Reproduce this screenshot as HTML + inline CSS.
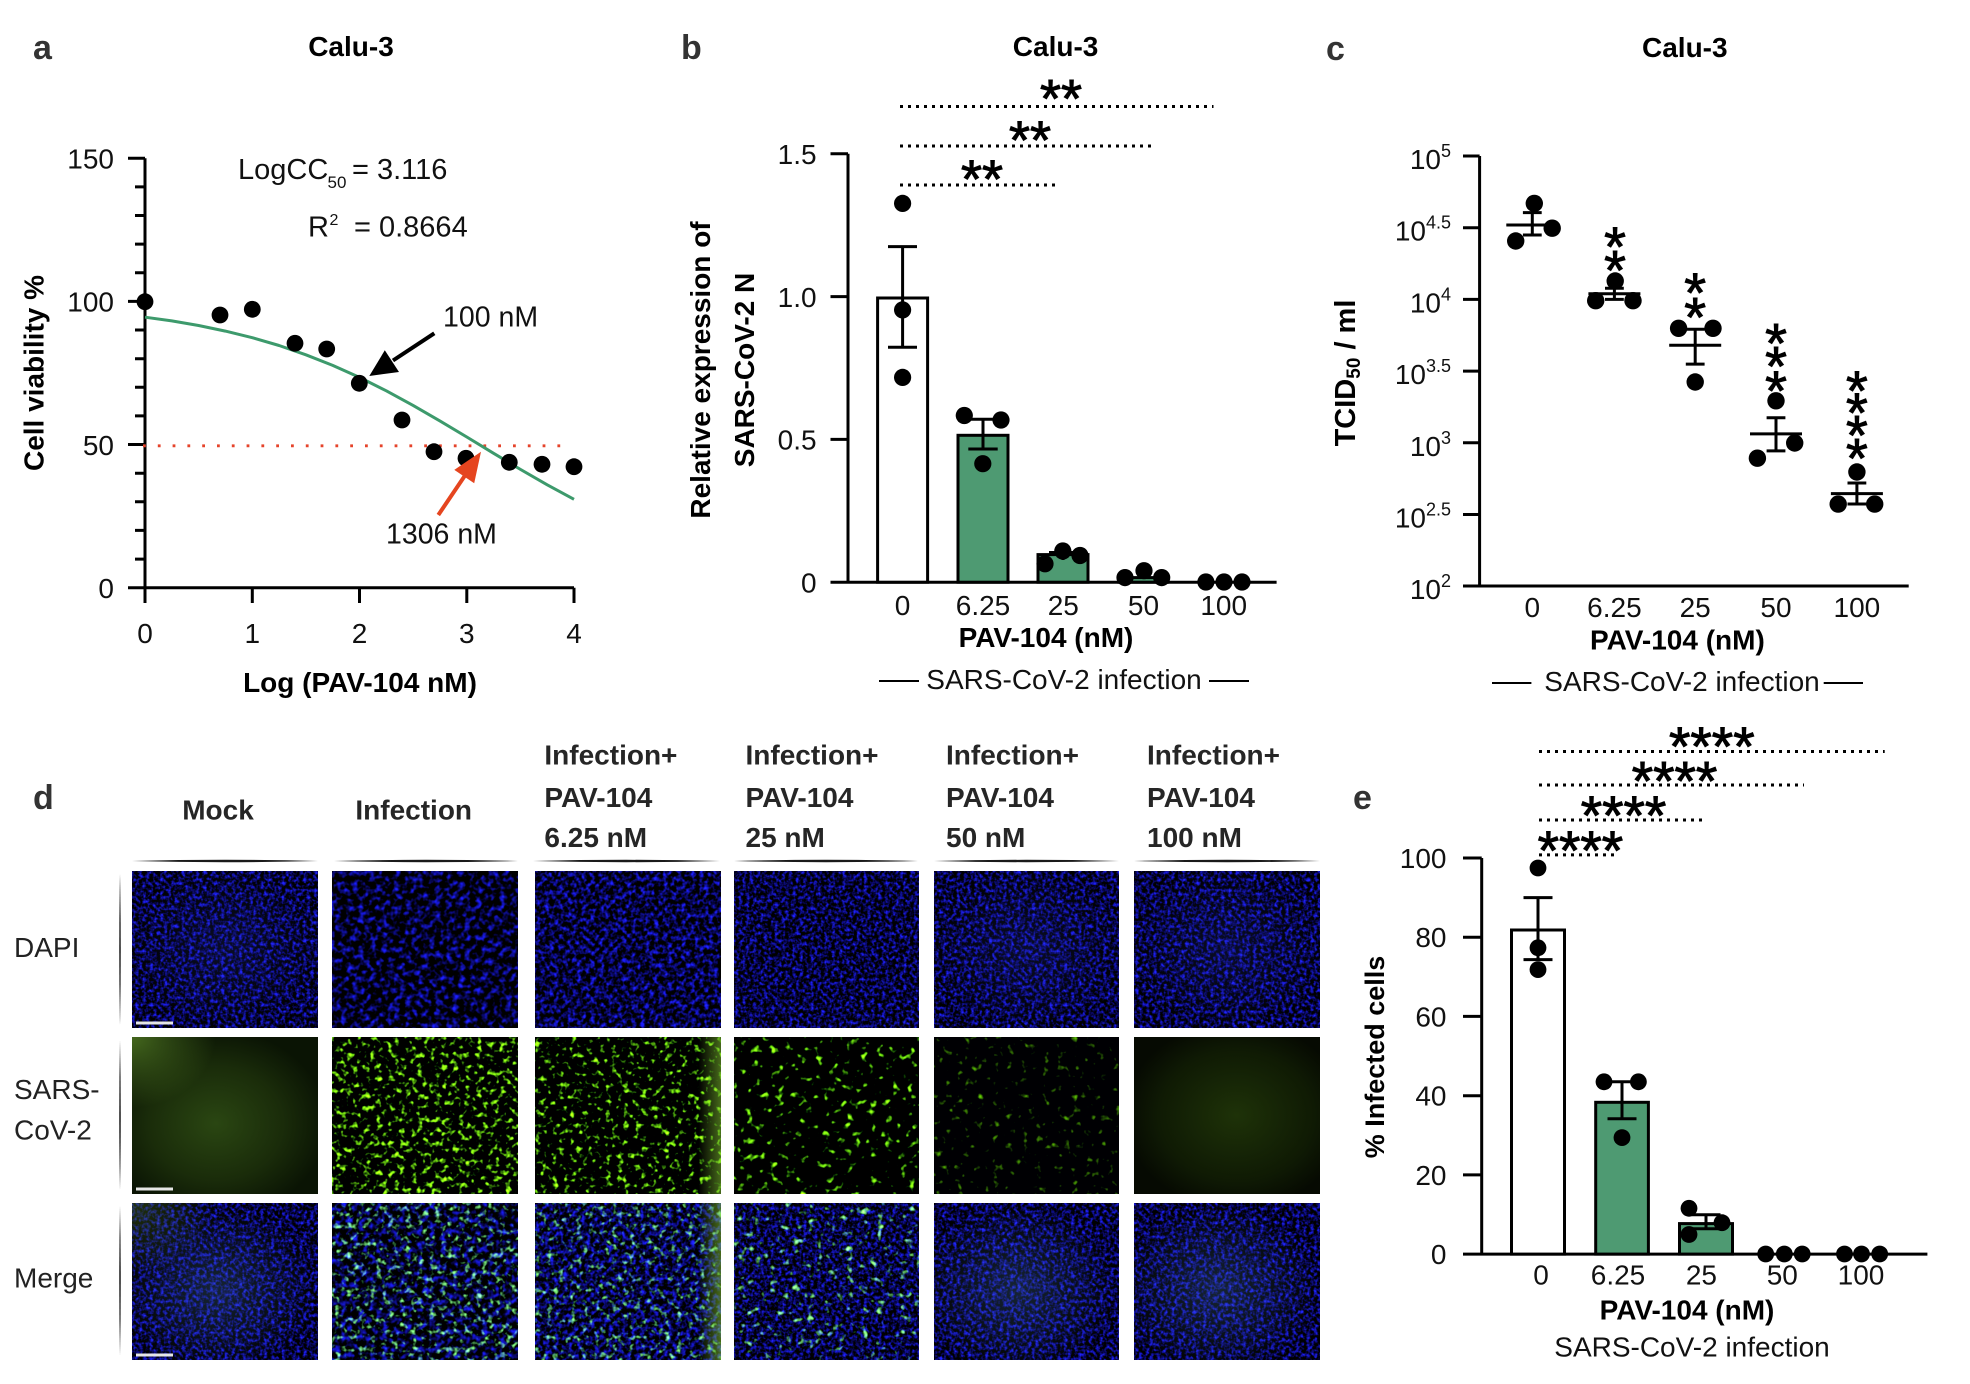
<!DOCTYPE html>
<html><head><meta charset="utf-8"><style>
html,body{margin:0;padding:0;background:#fff;}
svg{display:block;}
text{font-family:"Liberation Sans",Arial,sans-serif;}
</style></head><body>
<svg width="1970" height="1384" viewBox="0 0 1970 1384" xmlns="http://www.w3.org/2000/svg">
<defs>
<filter id="bF" x="0" y="0" width="1" height="1" color-interpolation-filters="sRGB">
<feTurbulence type="fractalNoise" baseFrequency="0.28" numOctaves="2" seed="3"/>
<feColorMatrix type="matrix" values="0.3 0 0 0 -0.13  0.35 0 0 0 -0.16  2.4 0 0 0 -0.95  0 0 0 0 1"/>
</filter>
<filter id="bC" x="0" y="0" width="1" height="1" color-interpolation-filters="sRGB">
<feTurbulence type="fractalNoise" baseFrequency="0.17" numOctaves="2" seed="2"/>
<feColorMatrix type="matrix" values="0.3 0 0 0 -0.14  0.35 0 0 0 -0.17  2.8 0 0 0 -1.25  0 0 0 0 1"/>
</filter>
<filter id="bM" x="0" y="0" width="1" height="1" color-interpolation-filters="sRGB">
<feTurbulence type="fractalNoise" baseFrequency="0.22" numOctaves="2" seed="9"/>
<feColorMatrix type="matrix" values="0.3 0 0 0 -0.13  0.35 0 0 0 -0.16  2.6 0 0 0 -1.05  0 0 0 0 1"/>
</filter>
<filter id="g2" x="0" y="0" width="1" height="1" color-interpolation-filters="sRGB">
<feTurbulence type="fractalNoise" baseFrequency="0.17" numOctaves="2" seed="5"/>
<feColorMatrix type="matrix" values="3 0 0 0 -1.68  5 0 0 0 -2.7  0.4 0 0 0 -0.22  0 0 0 0 1"/>
</filter>
<filter id="g3" x="0" y="0" width="1" height="1" color-interpolation-filters="sRGB">
<feTurbulence type="fractalNoise" baseFrequency="0.17" numOctaves="2" seed="8"/>
<feColorMatrix type="matrix" values="3 0 0 0 -1.76  5 0 0 0 -2.82  0.4 0 0 0 -0.23  0 0 0 0 1"/>
</filter>
<filter id="g4" x="0" y="0" width="1" height="1" color-interpolation-filters="sRGB">
<feTurbulence type="fractalNoise" baseFrequency="0.13" numOctaves="2" seed="11"/>
<feColorMatrix type="matrix" values="3.6 0 0 0 -2.3  6 0 0 0 -3.7  0.5 0 0 0 -0.32  0 0 0 0 1"/>
</filter>
<filter id="g5" x="0" y="0" width="1" height="1" color-interpolation-filters="sRGB">
<feTurbulence type="fractalNoise" baseFrequency="0.14" numOctaves="2" seed="13"/>
<feColorMatrix type="matrix" values="1.5 0 0 0 -0.98  3 0 0 0 -1.93  0 0 0 0 0.01  0 0 0 0 1"/>
</filter>
<filter id="m2" x="0" y="0" width="1" height="1" color-interpolation-filters="sRGB">
<feTurbulence type="fractalNoise" baseFrequency="0.17" numOctaves="2" seed="2" result="a"/>
<feColorMatrix in="a" type="matrix" values="0.3 0 0 0 -0.14 0.35 0 0 0 -0.17 2.8 0 0 0 -1.25 0 0 0 0 1" result="bl"/>
<feTurbulence type="fractalNoise" baseFrequency="0.17" numOctaves="2" seed="5" result="c"/>
<feColorMatrix in="c" type="matrix" values="2.2 0 0 0 -1.25 3.8 0 0 0 -2.08 2 0 0 0 -1.1 0 0 0 0 1" result="gr"/>
<feBlend in="gr" in2="bl" mode="screen"/>
</filter>
<filter id="m3" x="0" y="0" width="1" height="1" color-interpolation-filters="sRGB">
<feTurbulence type="fractalNoise" baseFrequency="0.22" numOctaves="2" seed="9" result="a"/>
<feColorMatrix in="a" type="matrix" values="0.3 0 0 0 -0.13 0.35 0 0 0 -0.16 2.6 0 0 0 -1.05 0 0 0 0 1" result="bl"/>
<feTurbulence type="fractalNoise" baseFrequency="0.17" numOctaves="2" seed="8" result="c"/>
<feColorMatrix in="c" type="matrix" values="2.2 0 0 0 -1.3 3.8 0 0 0 -2.15 2 0 0 0 -1.15 0 0 0 0 1" result="gr"/>
<feBlend in="gr" in2="bl" mode="screen"/>
</filter>
<filter id="m4" x="0" y="0" width="1" height="1" color-interpolation-filters="sRGB">
<feTurbulence type="fractalNoise" baseFrequency="0.28" numOctaves="2" seed="3" result="a"/>
<feColorMatrix in="a" type="matrix" values="0.3 0 0 0 -0.13 0.35 0 0 0 -0.16 2.4 0 0 0 -0.95 0 0 0 0 1" result="bl"/>
<feTurbulence type="fractalNoise" baseFrequency="0.13" numOctaves="2" seed="11" result="c"/>
<feColorMatrix in="c" type="matrix" values="3 0 0 0 -1.92 5 0 0 0 -3.1 2.6 0 0 0 -1.65 0 0 0 0 1" result="gr"/>
<feBlend in="gr" in2="bl" mode="screen"/>
</filter>
<radialGradient id="glowMock" cx="0.45" cy="0.55" r="0.6">
<stop offset="0" stop-color="#2a4612"/><stop offset="0.6" stop-color="#1a2c0a"/><stop offset="1" stop-color="#0a1404"/>
</radialGradient>
<radialGradient id="glowTL" cx="0" cy="0" r="0.45">
<stop offset="0" stop-color="#4a7020" stop-opacity="0.9"/><stop offset="1" stop-color="#4a7020" stop-opacity="0"/>
</radialGradient>
<radialGradient id="glow100" cx="0.55" cy="0.5" r="0.6">
<stop offset="0" stop-color="#1e3208"/><stop offset="0.7" stop-color="#0f1a04"/><stop offset="1" stop-color="#060a02"/>
</radialGradient>
<radialGradient id="haze" cx="0.45" cy="0.55" r="0.55">
<stop offset="0" stop-color="#4a78b0" stop-opacity="0.3"/><stop offset="1" stop-color="#4a78b0" stop-opacity="0"/>
</radialGradient>
<radialGradient id="hazeB" cx="0.5" cy="0.5" r="0.55">
<stop offset="0" stop-color="#3040c0" stop-opacity="0.2"/><stop offset="1" stop-color="#3040c0" stop-opacity="0"/>
</radialGradient>
<linearGradient id="edgeR" x1="0" x2="1" y1="0" y2="0">
<stop offset="0.88" stop-color="#80c030" stop-opacity="0"/><stop offset="1" stop-color="#80c030" stop-opacity="0.55"/>
</linearGradient>
</defs>

<rect width="1970" height="1384" fill="#fff"/>

<!-- ================= PANEL A ================= -->
<text x="33" y="59" font-size="34" font-weight="bold" fill="#333">a</text>
<text x="351" y="56" font-size="28" font-weight="bold" text-anchor="middle">Calu-3</text>
<g stroke="#000" stroke-width="3" fill="none">
<path d="M145 158.25V587.7M128 587.7H574"/>
<path d="M128 158.25H145M128 301.4H145M128 444.55H145M135 186.9H145M135 215.5H145M135 244.1H145M135 272.8H145M135 330H145M135 358.7H145M135 387.3H145M135 415.9H145M135 473.2H145M135 501.8H145M135 530.4H145M135 559.1H145"/>
<path d="M145 587.7V603M252.3 587.7V603M359.5 587.7V603M466.8 587.7V603M574 587.7V603"/>
</g>
<g font-size="28" text-anchor="end" fill="#111">
<text x="114" y="168.5">150</text><text x="114" y="311.7">100</text><text x="114" y="454.9">50</text><text x="114" y="598">0</text>
</g>
<g font-size="28" text-anchor="middle" fill="#111">
<text x="145" y="643">0</text><text x="252.3" y="643">1</text><text x="359.5" y="643">2</text><text x="466.8" y="643">3</text><text x="574" y="643">4</text>
</g>
<text x="360" y="692" font-size="28" font-weight="bold" text-anchor="middle">Log (PAV-104 nM)</text>
<text transform="translate(43.5,373) rotate(-90)" font-size="28" font-weight="bold" text-anchor="middle">Cell viability %</text>
<text x="238" y="179" font-size="29" fill="#111">LogCC</text>
<text x="327.5" y="188" font-size="17" fill="#111">50</text>
<text x="352" y="179" font-size="29" fill="#111">= 3.116</text>
<text x="308" y="236.7" font-size="29" fill="#111">R</text>
<text x="329.5" y="225" font-size="16" fill="#111">2</text>
<text x="354" y="236.7" font-size="29" fill="#111">= 0.8664</text>
<line x1="143" y1="445.8" x2="562" y2="445.8" stroke="#e5432b" stroke-width="2.8" stroke-dasharray="2.8 12"/>
<polyline fill="none" stroke="#3d9a6c" stroke-width="3" stroke-linejoin="round" points="145,317.2 171.8,320.9 198.6,325.5 225.4,331.1 252.3,337.7 279.1,345.5 305.9,354.8 332.7,365.4 359.5,377.4 386.3,390.8 413.1,405.4 439.9,420.9 466.8,437.0 493.6,453.3 520.4,469.4 547.2,484.8 574,499.3"/>
<g fill="#000">
<circle cx="145" cy="301.7" r="8.4"/><circle cx="220" cy="315" r="8.4"/><circle cx="252.3" cy="309.3" r="8.4"/>
<circle cx="295" cy="343.3" r="8.4"/><circle cx="326.7" cy="349" r="8.4"/><circle cx="359.3" cy="383.3" r="8.4"/>
<circle cx="402" cy="420" r="8.4"/><circle cx="434" cy="451.7" r="8.4"/><circle cx="466" cy="458.3" r="8.4"/>
<circle cx="509.3" cy="462.3" r="8.4"/><circle cx="542" cy="464.3" r="8.4"/><circle cx="574" cy="466.7" r="8.4"/>
</g>
<line x1="434.3" y1="333.3" x2="393" y2="360.5" stroke="#000" stroke-width="4"/>
<polygon points="369.3,376 384.8,350.3 399,372" fill="#000"/>
<line x1="438.3" y1="515" x2="466" y2="474" stroke="#e5451f" stroke-width="4"/>
<polygon points="481,451.7 454.3,469.9 474.2,483.3" fill="#e5451f"/>
<text x="443" y="326.7" font-size="28.5" fill="#111">100 nM</text>
<text x="386" y="543.3" font-size="28.5" fill="#111">1306 nM</text>

<!-- ================= PANEL B ================= -->
<text x="681" y="59" font-size="34" font-weight="bold" fill="#333">b</text>
<text x="1055.6" y="56" font-size="28" font-weight="bold" text-anchor="middle">Calu-3</text>
<g stroke="#000" stroke-width="3" fill="none">
<path d="M848 153.8V582.2M830.5 582.2H1276.6"/>
<path d="M830.5 153.8H848M830.5 296.6H848M830.5 439.4H848"/>
</g>
<g font-size="28" text-anchor="end" fill="#111">
<text x="816.6" y="164">1.5</text><text x="816.6" y="306.8">1.0</text><text x="816.6" y="449.6">0.5</text><text x="816.6" y="592.4">0</text>
</g>
<g stroke="#000" stroke-width="3">
<rect x="877.6" y="298" width="50" height="284.2" fill="#fff"/>
<rect x="958" y="435.3" width="50" height="146.9" fill="#4e9a72"/>
<rect x="1038" y="554.6" width="50" height="27.6" fill="#4e9a72"/>
<rect x="1119" y="577.6" width="48.5" height="4.6" fill="#4e9a72"/>
</g>
<g stroke="#000" stroke-width="3" fill="none">
<path d="M902.6 246.6V347.2M888 246.6H917M888 347.2H917"/>
<path d="M983 419.2V449M968.3 419.2H997.7M968.3 449H997.7"/>
<path d="M1063 552.5V560M1049 552.5H1077"/>
</g>
<g fill="#000">
<circle cx="902.6" cy="203.4" r="8.6"/><circle cx="902.6" cy="309.9" r="8.6"/><circle cx="902.6" cy="377.4" r="8.6"/>
<circle cx="964.3" cy="415.5" r="8.6"/><circle cx="1001" cy="420" r="8.6"/><circle cx="982.8" cy="463.7" r="8.6"/>
<circle cx="1045" cy="563.8" r="8.6"/><circle cx="1062.8" cy="551" r="8.6"/><circle cx="1080" cy="555.5" r="8.6"/>
<circle cx="1125" cy="577.6" r="8.6"/><circle cx="1144" cy="570.7" r="8.6"/><circle cx="1161.7" cy="577.6" r="8.6"/>
<circle cx="1205.9" cy="582" r="8.6"/><circle cx="1224" cy="582" r="8.6"/><circle cx="1242" cy="582" r="8.6"/>
</g>
<g stroke="#000" stroke-width="3" stroke-dasharray="3 5" fill="none">
<line x1="900" y1="106.5" x2="1213.5" y2="106.5"/>
<line x1="900" y1="146" x2="1153" y2="146"/>
<line x1="900" y1="185" x2="1057.7" y2="185"/>
</g>
<g font-size="54" text-anchor="middle" stroke="#000" stroke-width="1">
<text x="1061" y="117">**</text><text x="1030" y="158.6">**</text><text x="982" y="197.6">**</text>
</g>
<g font-size="28" text-anchor="middle" fill="#111">
<text x="902.6" y="615">0</text><text x="983" y="615">6.25</text><text x="1063.3" y="615">25</text><text x="1143.5" y="615">50</text><text x="1223.7" y="615">100</text>
</g>
<text x="1046" y="647" font-size="28" font-weight="bold" text-anchor="middle">PAV-104 (nM)</text>
<text x="1064" y="689" font-size="28" text-anchor="middle" fill="#111">SARS-CoV-2 infection</text>
<g stroke="#000" stroke-width="2"><line x1="879" y1="681" x2="919" y2="681"/><line x1="1209" y1="681" x2="1249" y2="681"/></g>
<text transform="translate(710,370) rotate(-90)" font-size="28" font-weight="bold" text-anchor="middle">Relative expression of</text>
<text transform="translate(754,370) rotate(-90)" font-size="28" font-weight="bold" text-anchor="middle">SARS-CoV-2 N</text>

<!-- ================= PANEL C ================= -->
<text x="1326" y="60" font-size="34" font-weight="bold" fill="#333">c</text>
<text x="1684.8" y="57" font-size="28" font-weight="bold" text-anchor="middle">Calu-3</text>
<g stroke="#000" stroke-width="3" fill="none">
<path d="M1479.6 156V586M1463 586H1908.7"/>
<path d="M1463 156H1479.6M1463 227.7H1479.6M1463 299.4H1479.6M1463 371.1H1479.6M1463 442.8H1479.6M1463 514.5H1479.6"/>
</g>
<g font-size="28" text-anchor="end" fill="#111">
<text x="1451" y="169">10<tspan font-size="18" dy="-12">5</tspan></text>
<text x="1451" y="240.7">10<tspan font-size="18" dy="-12">4.5</tspan></text>
<text x="1451" y="312.4">10<tspan font-size="18" dy="-12">4</tspan></text>
<text x="1451" y="384.1">10<tspan font-size="18" dy="-12">3.5</tspan></text>
<text x="1451" y="455.8">10<tspan font-size="18" dy="-12">3</tspan></text>
<text x="1451" y="527.5">10<tspan font-size="18" dy="-12">2.5</tspan></text>
<text x="1451" y="599">10<tspan font-size="18" dy="-12">2</tspan></text>
</g>
<g stroke="#000" stroke-width="3" fill="none">
<path d="M1506.3 225H1558.3M1532.3 212.6V235M1522.9 212.6H1541.7M1522.9 235H1541.7"/>
<path d="M1588.4 293.8H1640.4M1614.4 288.3V299.4M1605 288.3H1623.8M1605 299.4H1623.8"/>
<path d="M1669.2 345.3H1721.2M1695.2 329.2V364.1M1685.8 329.2H1704.6M1685.8 364.1H1704.6"/>
<path d="M1750 433.9H1802M1776 417.8V450.9M1766.6 417.8H1785.4M1766.6 450.9H1785.4"/>
<path d="M1830.9 493.6H1882.9M1856.9 483V504M1847.5 483H1866.3M1847.5 504H1866.3"/>
</g>
<g fill="#000">
<circle cx="1515.7" cy="241" r="8.7"/><circle cx="1534.3" cy="203.4" r="8.7"/><circle cx="1552.2" cy="228.2" r="8.7"/>
<circle cx="1595.7" cy="300.7" r="8.7"/><circle cx="1615.2" cy="281" r="8.7"/><circle cx="1633" cy="300.7" r="8.7"/>
<circle cx="1678.6" cy="328.3" r="8.7"/><circle cx="1713" cy="328.3" r="8.7"/><circle cx="1695.2" cy="382" r="8.7"/>
<circle cx="1757.4" cy="458.2" r="8.7"/><circle cx="1776" cy="400.8" r="8.7"/><circle cx="1794.7" cy="443" r="8.7"/>
<circle cx="1838.2" cy="504.1" r="8.7"/><circle cx="1856.9" cy="472" r="8.7"/><circle cx="1874.7" cy="504.1" r="8.7"/>
</g>
<g font-size="56" text-anchor="middle" stroke="#000" stroke-width="1">
<text x="1615" y="266">*</text><text x="1615" y="289.5">*</text>
<text x="1695.2" y="312">*</text><text x="1695.2" y="336.3">*</text>
<text x="1776" y="362.5">*</text><text x="1776" y="385.5">*</text><text x="1776" y="409.8">*</text>
<text x="1856.9" y="410.2">*</text><text x="1856.9" y="431.8">*</text><text x="1856.9" y="454.3">*</text><text x="1856.9" y="477.3">*</text>
</g>
<g font-size="28" text-anchor="middle" fill="#111">
<text x="1532.3" y="617">0</text><text x="1614.4" y="617">6.25</text><text x="1695.2" y="617">25</text><text x="1776" y="617">50</text><text x="1856.9" y="617">100</text>
</g>
<text x="1677.4" y="649.5" font-size="28" font-weight="bold" text-anchor="middle">PAV-104 (nM)</text>
<text x="1682" y="691" font-size="28" text-anchor="middle" fill="#111">SARS-CoV-2 infection</text>
<g stroke="#000" stroke-width="2"><line x1="1492" y1="683" x2="1531.4" y2="683"/><line x1="1823.7" y1="683" x2="1863" y2="683"/></g>
<text transform="translate(1355,373) rotate(-90)" font-size="29" font-weight="bold" text-anchor="middle">TCID<tspan font-size="19" dy="5">50</tspan><tspan dy="-5"> / ml</tspan></text>

<!-- ================= PANEL D ================= -->
<text x="33" y="809" font-size="34" font-weight="bold" fill="#333">d</text>
<g font-size="28" font-weight="bold" fill="#262626">
<text x="218" y="819.5" text-anchor="middle">Mock</text>
<text x="413.7" y="819.5" text-anchor="middle">Infection</text>
<text x="544.4" y="764.5">Infection+</text><text x="544.4" y="806.8">PAV-104</text><text x="544.4" y="847">6.25 nM</text>
<text x="745.5" y="764.5">Infection+</text><text x="745.5" y="806.8">PAV-104</text><text x="745.5" y="847">25 nM</text>
<text x="946" y="764.5">Infection+</text><text x="946" y="806.8">PAV-104</text><text x="946" y="847">50 nM</text>
<text x="1147" y="764.5">Infection+</text><text x="1147" y="806.8">PAV-104</text><text x="1147" y="847">100 nM</text>
</g>
<g fill="#1a1a1a">
<path d="M132 861Q225 858.6 318 861Q225 863.4 132 861Z"/>
<path d="M334 861Q426 858.6 518 861Q426 863.4 334 861Z"/>
<path d="M533 861Q626 858.6 720 861Q626 863.4 533 861Z"/>
<path d="M734 861Q826 858.6 918 861Q826 863.4 734 861Z"/>
<path d="M934 861Q1026 858.6 1119 861Q1026 863.4 934 861Z"/>
<path d="M1134 861Q1227 858.6 1320 861Q1227 863.4 1134 861Z"/>
<path d="M120 874Q118.5 950 120 1025Q121.5 950 120 874Z"/>
<path d="M120 1040Q118.5 1115 120 1190Q121.5 1115 120 1040Z"/>
<path d="M120 1206Q118.5 1281 120 1356Q121.5 1281 120 1206Z"/>
</g>
<g font-size="28" fill="#222">
<text x="14" y="957">DAPI</text>
<text x="14" y="1099">SARS-</text><text x="14" y="1139.3">CoV-2</text>
<text x="14" y="1287.5">Merge</text>
</g>
<!-- tiles row 1 DAPI -->
<g>
<rect x="132" y="871" width="186" height="157" fill="#000"/><rect x="132" y="871" width="186" height="157" filter="url(#bF)"/><rect x="132" y="871" width="186" height="157" fill="url(#hazeB)"/>
<rect x="332" y="871" width="186" height="157" fill="#000"/><rect x="332" y="871" width="186" height="157" filter="url(#bC)"/>
<rect x="535" y="871" width="186" height="157" fill="#000"/><rect x="535" y="871" width="186" height="157" filter="url(#bM)"/>
<rect x="734" y="871" width="185" height="157" fill="#000"/><rect x="734" y="871" width="185" height="157" filter="url(#bF)"/>
<rect x="934" y="871" width="185" height="157" fill="#000"/><rect x="934" y="871" width="185" height="157" filter="url(#bF)"/><rect x="934" y="871" width="185" height="157" fill="url(#hazeB)"/>
<rect x="1134" y="871" width="186" height="157" fill="#000"/><rect x="1134" y="871" width="186" height="157" filter="url(#bF)"/><rect x="1134" y="871" width="186" height="157" fill="url(#hazeB)"/>
</g>
<!-- row 2 SARS -->
<g>
<rect x="132" y="1037" width="186" height="157" fill="url(#glowMock)"/><rect x="132" y="1037" width="186" height="157" fill="url(#glowTL)"/>
<rect x="332" y="1037" width="186" height="157" fill="#000"/><rect x="332" y="1037" width="186" height="157" filter="url(#g2)"/>
<rect x="535" y="1037" width="186" height="157" fill="#000"/><rect x="535" y="1037" width="186" height="157" filter="url(#g3)"/><rect x="535" y="1037" width="186" height="157" fill="url(#edgeR)"/>
<rect x="734" y="1037" width="185" height="157" fill="#000"/><rect x="734" y="1037" width="185" height="157" filter="url(#g4)"/>
<rect x="934" y="1037" width="185" height="157" fill="#000"/><rect x="934" y="1037" width="185" height="157" filter="url(#g5)"/>
<rect x="1134" y="1037" width="186" height="157" fill="url(#glow100)"/>
</g>
<!-- row 3 Merge -->
<g>
<rect x="132" y="1203" width="186" height="157" fill="#000"/><rect x="132" y="1203" width="186" height="157" filter="url(#bF)"/><rect x="132" y="1203" width="186" height="157" fill="url(#haze)"/><rect x="132" y="1203" width="186" height="157" fill="url(#glowTL)" opacity="0.5"/>
<rect x="332" y="1203" width="186" height="157" fill="#000"/><rect x="332" y="1203" width="186" height="157" filter="url(#m2)"/>
<rect x="535" y="1203" width="186" height="157" fill="#000"/><rect x="535" y="1203" width="186" height="157" filter="url(#m3)"/><rect x="535" y="1203" width="186" height="157" fill="url(#edgeR)"/>
<rect x="734" y="1203" width="185" height="157" fill="#000"/><rect x="734" y="1203" width="185" height="157" filter="url(#m4)"/>
<rect x="934" y="1203" width="185" height="157" fill="#000"/><rect x="934" y="1203" width="185" height="157" filter="url(#bF)"/><rect x="934" y="1203" width="185" height="157" fill="url(#haze)"/>
<rect x="1134" y="1203" width="186" height="157" fill="#000"/><rect x="1134" y="1203" width="186" height="157" filter="url(#bF)"/><rect x="1134" y="1203" width="186" height="157" fill="url(#haze)"/>
</g>
<g fill="#e6e6e6">
<rect x="136" y="1021.5" width="37" height="3"/><rect x="136" y="1187.5" width="37" height="3"/><rect x="136" y="1353.5" width="37" height="3"/>
</g>

<!-- ================= PANEL E ================= -->
<text x="1353" y="809" font-size="34" font-weight="bold" fill="#333">e</text>
<g stroke="#000" stroke-width="3" fill="none">
<path d="M1481.7 858V1254.1M1463 1254.1H1927.4"/>
<path d="M1463 858H1481.7M1463 937.2H1481.7M1463 1016.4H1481.7M1463 1095.7H1481.7M1463 1174.9H1481.7"/>
</g>
<g font-size="28" text-anchor="end" fill="#111">
<text x="1446.5" y="868">100</text><text x="1446.5" y="947.2">80</text><text x="1446.5" y="1026.4">60</text><text x="1446.5" y="1105.7">40</text><text x="1446.5" y="1184.9">20</text><text x="1446.5" y="1264.1">0</text>
</g>
<g stroke="#000" stroke-width="3">
<rect x="1511.5" y="930" width="53" height="324.1" fill="#fff"/>
<rect x="1595.7" y="1102.3" width="52.7" height="151.8" fill="#4e9a72"/>
<rect x="1679.5" y="1223.6" width="53" height="30.5" fill="#4e9a72"/>
</g>
<g stroke="#000" stroke-width="3" fill="none">
<path d="M1538 897.6V959.6M1523.5 897.6H1552.5M1523.5 959.6H1552.5"/>
<path d="M1622 1081.8V1118.8M1607.5 1081.8H1636.5M1607.5 1118.8H1636.5"/>
<path d="M1706 1214.8V1228.8M1691.5 1214.8H1720.5M1691.5 1228.8H1720.5"/>
</g>
<g fill="#000">
<circle cx="1538" cy="868" r="8.4"/><circle cx="1538" cy="947.8" r="8.4"/><circle cx="1538" cy="969.6" r="8.4"/>
<circle cx="1604" cy="1081.8" r="8.4"/><circle cx="1638.4" cy="1081.8" r="8.4"/><circle cx="1622" cy="1137.6" r="8.4"/>
<circle cx="1689" cy="1208.3" r="8.4"/><circle cx="1689" cy="1234.5" r="8.4"/><circle cx="1722" cy="1222.7" r="8.4"/>
<circle cx="1765.7" cy="1254" r="8.4"/><circle cx="1784.3" cy="1254" r="8.4"/><circle cx="1802.2" cy="1254" r="8.4"/>
<circle cx="1844.5" cy="1254" r="8.4"/><circle cx="1861.5" cy="1254" r="8.4"/><circle cx="1879.7" cy="1254" r="8.4"/>
</g>
<g stroke="#000" stroke-width="3" stroke-dasharray="3 5" fill="none">
<line x1="1539" y1="751.5" x2="1884.7" y2="751.5"/>
<line x1="1539" y1="785" x2="1804" y2="785"/>
<line x1="1539" y1="820" x2="1705.6" y2="820"/>
<line x1="1539" y1="854.9" x2="1615.6" y2="854.9"/>
</g>
<g font-size="55" text-anchor="middle" stroke="#000" stroke-width="1">
<text x="1711.8" y="765.2">****</text><text x="1674.5" y="799.3">****</text><text x="1623.5" y="834.1">****</text><text x="1580.4" y="869">****</text>
</g>
<g font-size="28" text-anchor="middle" fill="#111">
<text x="1541" y="1284.6">0</text><text x="1618" y="1284.6">6.25</text><text x="1701.4" y="1284.6">25</text><text x="1782.3" y="1284.6">50</text><text x="1861" y="1284.6">100</text>
</g>
<text x="1687" y="1319.5" font-size="28" font-weight="bold" text-anchor="middle">PAV-104 (nM)</text>
<text x="1692" y="1356.6" font-size="28" text-anchor="middle" fill="#111">SARS-CoV-2 infection</text>
<text transform="translate(1384,1057) rotate(-90)" font-size="27" font-weight="bold" text-anchor="middle">% Infected cells</text>
</svg>
</body></html>
